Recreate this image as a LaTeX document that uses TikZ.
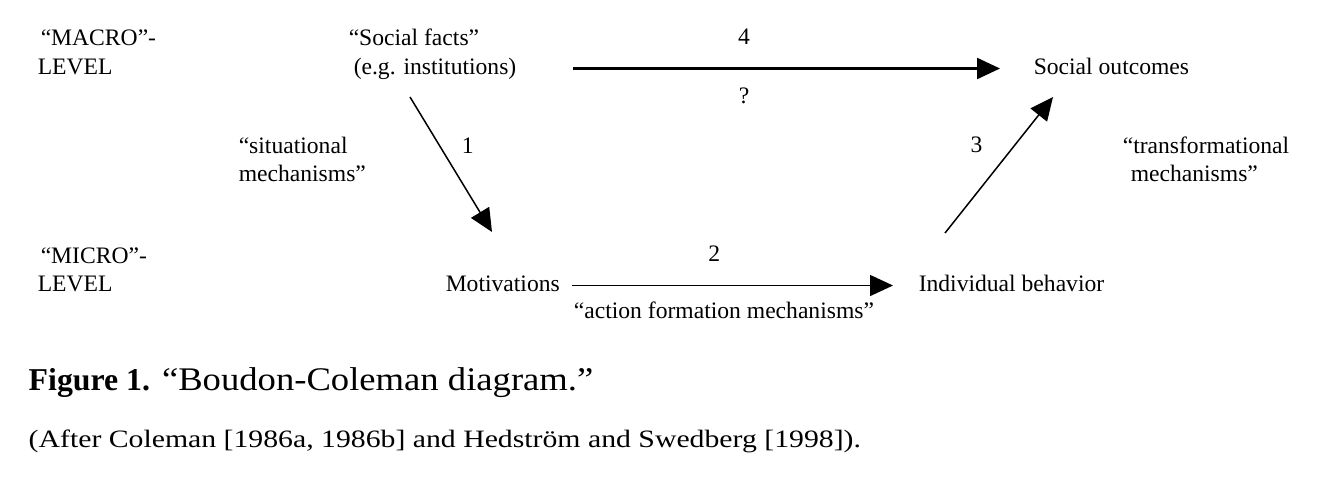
\documentclass[tikz,border=0pt]{standalone}
\usepackage{fontspec}
\setmainfont{Liberation Serif}
\newfontfamily\capfont[FakeStretch=1.11]{Liberation Serif}
\newfontfamily\srcfont[FakeStretch=1.19]{Liberation Serif}
\usetikzlibrary{arrows.meta}
\begin{document}
\begin{tikzpicture}[->,>={Triangle[length=11.5pt,width=10.5pt]},x=0.5pt,y=-0.5pt,line width=0.75pt,
	txt/.style={inner sep=0pt, anchor=base west, text height=8pt, text depth=2.5pt, font=\fontsize{11.8}{14.5}\selectfont},
	captxt/.style={inner sep=0pt, anchor=base west},
	heavy/.style={line width=1.15pt}];
	\useasboundingbox (0,0) rectangle (1320,482);
	% levels
	\node[txt] (macro) at (40,45) {“MACRO”-};
	\node[txt] (macrolevel) at (37,74) {LEVEL};
	\node[txt] (micro) at (40,263) {“MICRO”-};
	\node[txt] (microlevel) at (37,291) {LEVEL};
	
	\node[txt] (facts) at (348,45) {“Social facts”};
	\node[txt] (inst) at (353,74) {(e.g. institutions)};
	\node[txt] (outcomes) at (1033,74) {Social outcomes};
	\node[txt] (motiv) at (445,291) {Motivations};
	\node[txt] (indiv) at (918,291) {Individual behavior};
	
	\node[txt] (sit) at (238,153) {“situational};
	\node[txt] (sitmech) at (238,181) {mechanisms”};
	\node[txt] (trans) at (1122,153) {“transformational};
	\node[txt] (transmech) at (1130,181) {mechanisms”};
	
	\coordinate (tail1) at (410,97);
	\coordinate (head1) at (492,232);
	\coordinate (tail3) at (945,233);
	\coordinate (head3) at (1053,97);
	
	\path[every node/.style={txt, anchor=center}]
	(inst) edge[heavy, shorten <=28pt, shorten >=16.5pt] node [pos=.44, above=9pt] {4} node [pos=.44, below=9pt] {?} (outcomes)
	(motiv) edge[shorten <=5.5pt, shorten >=12.5pt] node [pos=.43, above=9pt] {2} node [pos=.457, below=8pt] {“action formation mechanisms”} (indiv)
	(tail1) edge node [pos=.38, right=10pt] {1} (head1)
	(tail3) edge node [pos=.63, left=15pt] {3} (head3);
	
	% caption
	\node[captxt] (figcap) at (28,390) {{\fontsize{15.9}{18}\selectfont\bfseries Figure 1.}\hspace*{6pt}{\capfont\fontsize{16.5}{18}\selectfont “Boudon-Coleman diagram.”}};
	\node[captxt] (source) at (28,447) {\srcfont\fontsize{12.5}{14}\selectfont (After Coleman [1986a, 1986b] and Hedström and Swedberg [1998]).};
\end{tikzpicture}
\end{document}
